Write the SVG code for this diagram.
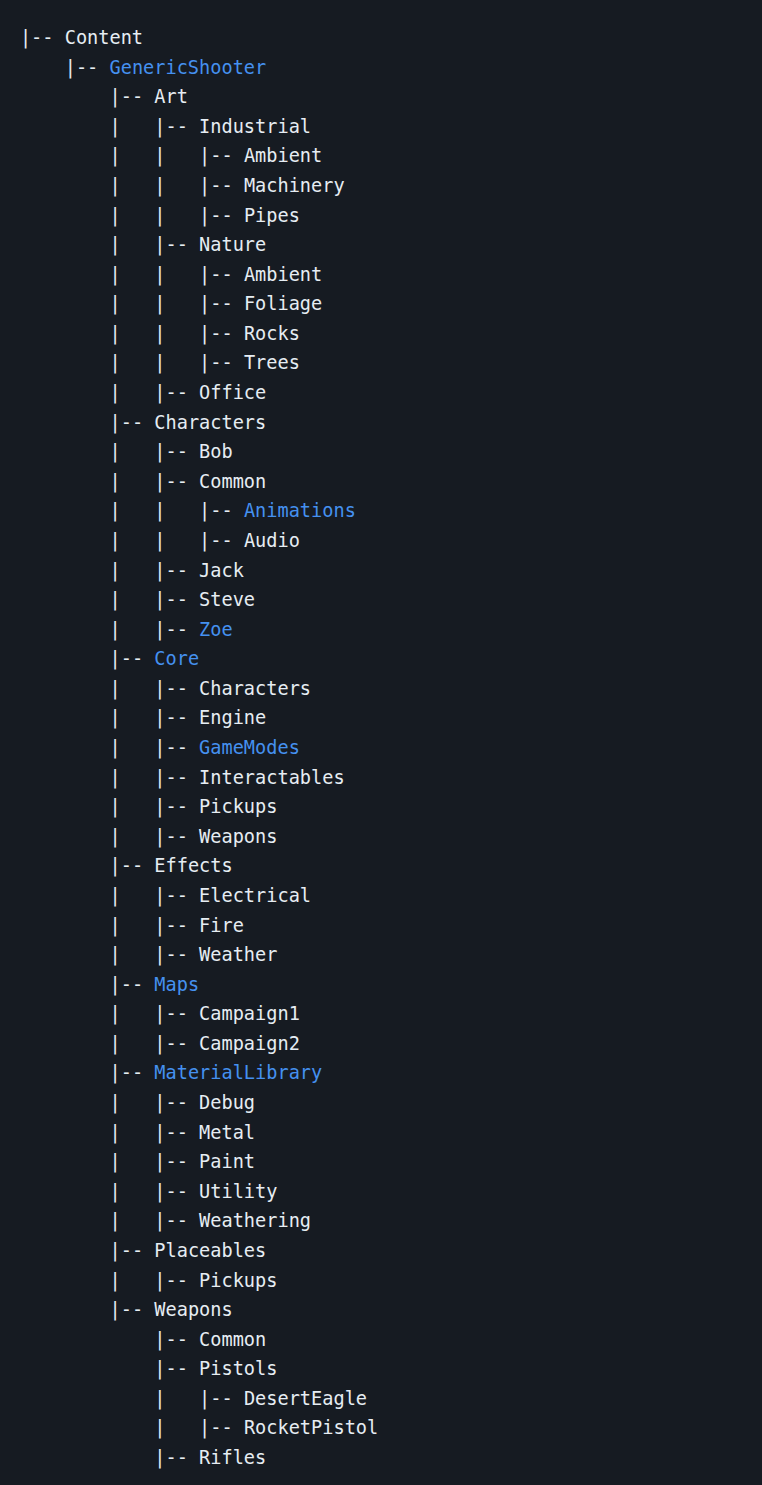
<svg xmlns="http://www.w3.org/2000/svg" width="762" height="1485" viewBox="0 0 762 1485">
<style>
text{font-family:"DejaVu Sans Mono","Liberation Mono",monospace;font-size:18.6px;fill:#e6edf3;white-space:pre}
.b{fill:#4591f0}
.c{fill:#e6edf3}
</style>
<rect width="762" height="1485" fill="#161b22"/>
<g id="tree" transform="translate(1.5,0)">
<g id="connectors" xml:space="preserve">
<text class="c" x="18.4" y="44">|--</text>
<text class="c" x="63.2" y="73.58">|--</text>
<text class="c" x="108" y="103.17">|--</text>
<text class="c" x="108" y="132.75">|   |--</text>
<text class="c" x="108" y="162.33">|   |   |--</text>
<text class="c" x="108" y="191.92">|   |   |--</text>
<text class="c" x="108" y="221.5">|   |   |--</text>
<text class="c" x="108" y="251.08">|   |--</text>
<text class="c" x="108" y="280.67">|   |   |--</text>
<text class="c" x="108" y="310.25">|   |   |--</text>
<text class="c" x="108" y="339.83">|   |   |--</text>
<text class="c" x="108" y="369.42">|   |   |--</text>
<text class="c" x="108" y="399">|   |--</text>
<text class="c" x="108" y="428.58">|--</text>
<text class="c" x="108" y="458.17">|   |--</text>
<text class="c" x="108" y="487.75">|   |--</text>
<text class="c" x="108" y="517.33">|   |   |--</text>
<text class="c" x="108" y="546.92">|   |   |--</text>
<text class="c" x="108" y="576.5">|   |--</text>
<text class="c" x="108" y="606.08">|   |--</text>
<text class="c" x="108" y="635.67">|   |--</text>
<text class="c" x="108" y="665.25">|--</text>
<text class="c" x="108" y="694.83">|   |--</text>
<text class="c" x="108" y="724.42">|   |--</text>
<text class="c" x="108" y="754">|   |--</text>
<text class="c" x="108" y="783.58">|   |--</text>
<text class="c" x="108" y="813.17">|   |--</text>
<text class="c" x="108" y="842.75">|   |--</text>
<text class="c" x="108" y="872.33">|--</text>
<text class="c" x="108" y="901.92">|   |--</text>
<text class="c" x="108" y="931.5">|   |--</text>
<text class="c" x="108" y="961.08">|   |--</text>
<text class="c" x="108" y="990.67">|--</text>
<text class="c" x="108" y="1020.25">|   |--</text>
<text class="c" x="108" y="1049.83">|   |--</text>
<text class="c" x="108" y="1079.42">|--</text>
<text class="c" x="108" y="1109">|   |--</text>
<text class="c" x="108" y="1138.58">|   |--</text>
<text class="c" x="108" y="1168.17">|   |--</text>
<text class="c" x="108" y="1197.75">|   |--</text>
<text class="c" x="108" y="1227.33">|   |--</text>
<text class="c" x="108" y="1256.92">|--</text>
<text class="c" x="108" y="1286.5">|   |--</text>
<text class="c" x="108" y="1316.08">|--</text>
<text class="c" x="152.8" y="1345.67">|--</text>
<text class="c" x="152.8" y="1375.25">|--</text>
<text class="c" x="152.8" y="1404.83">|   |--</text>
<text class="c" x="152.8" y="1434.42">|   |--</text>
<text class="c" x="152.8" y="1464">|--</text>
</g>
<g id="n01"><text x="63.2" y="44">Content</text></g>
<g id="n02"><text class="b" x="108" y="73.58">GenericShooter</text></g>
<g id="n03"><text x="152.8" y="103.17">Art</text></g>
<g id="n04"><text x="197.6" y="132.75">Industrial</text></g>
<g id="n05"><text x="242.4" y="162.33">Ambient</text></g>
<g id="n06"><text x="242.4" y="191.92">Machinery</text></g>
<g id="n07"><text x="242.4" y="221.5">Pipes</text></g>
<g id="n08"><text x="197.6" y="251.08">Nature</text></g>
<g id="n09"><text x="242.4" y="280.67">Ambient</text></g>
<g id="n10"><text x="242.4" y="310.25">Foliage</text></g>
<g id="n11"><text x="242.4" y="339.83">Rocks</text></g>
<g id="n12"><text x="242.4" y="369.42">Trees</text></g>
<g id="n13"><text x="197.6" y="399">Office</text></g>
<g id="n14"><text x="152.8" y="428.58">Characters</text></g>
<g id="n15"><text x="197.6" y="458.17">Bob</text></g>
<g id="n16"><text x="197.6" y="487.75">Common</text></g>
<g id="n17"><text class="b" x="242.4" y="517.33">Animations</text></g>
<g id="n18"><text x="242.4" y="546.92">Audio</text></g>
<g id="n19"><text x="197.6" y="576.5">Jack</text></g>
<g id="n20"><text x="197.6" y="606.08">Steve</text></g>
<g id="n21"><text class="b" x="197.6" y="635.67">Zoe</text></g>
<g id="n22"><text class="b" x="152.8" y="665.25">Core</text></g>
<g id="n23"><text x="197.6" y="694.83">Characters</text></g>
<g id="n24"><text x="197.6" y="724.42">Engine</text></g>
<g id="n25"><text class="b" x="197.6" y="754">GameModes</text></g>
<g id="n26"><text x="197.6" y="783.58">Interactables</text></g>
<g id="n27"><text x="197.6" y="813.17">Pickups</text></g>
<g id="n28"><text x="197.6" y="842.75">Weapons</text></g>
<g id="n29"><text x="152.8" y="872.33">Effects</text></g>
<g id="n30"><text x="197.6" y="901.92">Electrical</text></g>
<g id="n31"><text x="197.6" y="931.5">Fire</text></g>
<g id="n32"><text x="197.6" y="961.08">Weather</text></g>
<g id="n33"><text class="b" x="152.8" y="990.67">Maps</text></g>
<g id="n34"><text x="197.6" y="1020.25">Campaign1</text></g>
<g id="n35"><text x="197.6" y="1049.83">Campaign2</text></g>
<g id="n36"><text class="b" x="152.8" y="1079.42">MaterialLibrary</text></g>
<g id="n37"><text x="197.6" y="1109">Debug</text></g>
<g id="n38"><text x="197.6" y="1138.58">Metal</text></g>
<g id="n39"><text x="197.6" y="1168.17">Paint</text></g>
<g id="n40"><text x="197.6" y="1197.75">Utility</text></g>
<g id="n41"><text x="197.6" y="1227.33">Weathering</text></g>
<g id="n42"><text x="152.8" y="1256.92">Placeables</text></g>
<g id="n43"><text x="197.6" y="1286.5">Pickups</text></g>
<g id="n44"><text x="152.8" y="1316.08">Weapons</text></g>
<g id="n45"><text x="197.6" y="1345.67">Common</text></g>
<g id="n46"><text x="197.6" y="1375.25">Pistols</text></g>
<g id="n47"><text x="242.4" y="1404.83">DesertEagle</text></g>
<g id="n48"><text x="242.4" y="1434.42">RocketPistol</text></g>
<g id="n49"><text x="197.6" y="1464">Rifles</text></g>
</g>
</svg>
